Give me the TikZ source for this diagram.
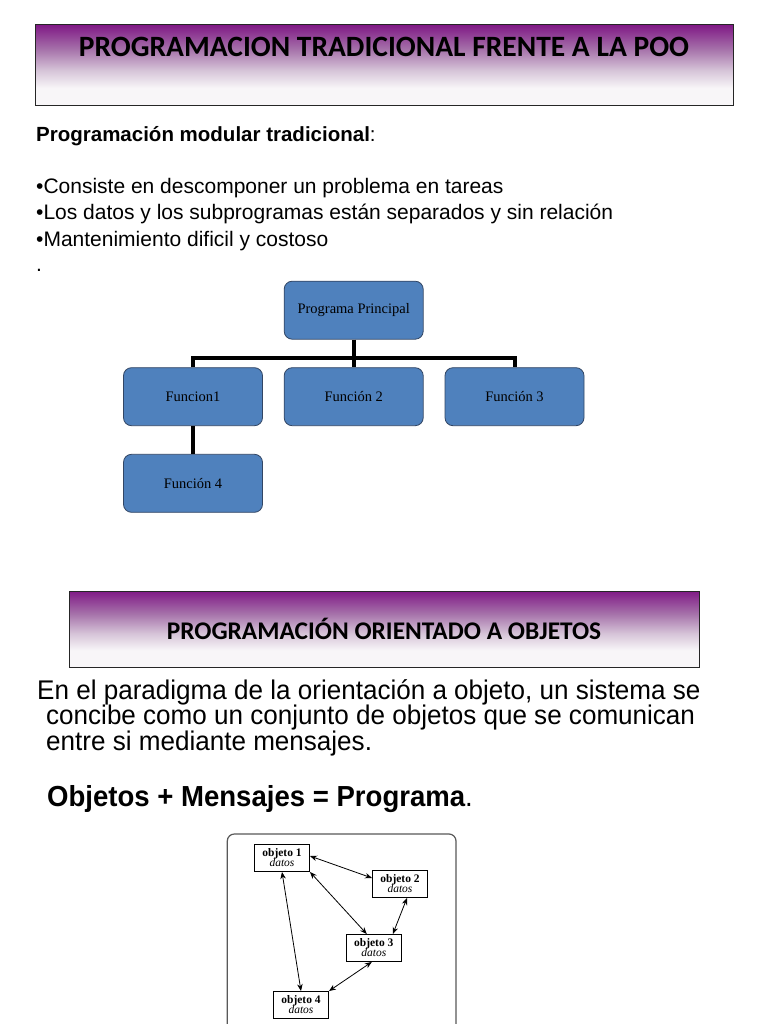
\documentclass[tikz,border=0pt]{standalone}
\usepackage{fontspec}
\setmainfont{Liberation Sans}
\newfontfamily\carlito{Carlito}
\newfontfamily\tms{Liberation Serif}
\usetikzlibrary{arrows.meta}
\definecolor{hdrtop}{RGB}{128,26,134}
\definecolor{hdrmid}{RGB}{166,114,170}
\definecolor{hdrlight}{RGB}{214,196,216}
\definecolor{hdrbot}{RGB}{248,246,248}
\definecolor{orgfill}{RGB}{79,129,189}
\definecolor{orgline}{RGB}{50,70,100}
\pgfdeclareverticalshading{hdrshade}{100bp}{color(0bp)=(hdrbot); color(25bp)=(hdrbot); color(36bp)=(hdrbot); color(47bp)=(hdrlight); color(60bp)=(hdrmid); color(75bp)=(hdrtop); color(100bp)=(hdrtop)}
\tikzset{
  hdrbox/.style={draw=black!85, line width=1pt, shade, shading=hdrshade, inner sep=0pt},
  hdrtext/.style={font=\carlito\bfseries, anchor=base, inner sep=0pt},
  bodytext/.style={anchor=base west, inner sep=0pt, align=left},
  orgbox/.style={draw=orgline, line width=0.8pt, fill=orgfill, rounded corners=8pt,
    minimum width=139pt, minimum height=58pt, font=\tms\fontsize{14.5}{17}\selectfont},
  orgconn/.style={line width=4pt, line cap=butt},
  objbox/.style={draw=black, line width=0.9pt, fill=white, minimum width=55pt, minimum height=27pt,
    inner sep=0pt, align=center, font=\tms\fontsize{11.5}{11}\selectfont},
  objarrow/.style={line width=0.8pt, {Stealth[length=7pt,width=5.5pt]}-{Stealth[length=7pt,width=5.5pt]}},
}
\begin{document}
\begin{tikzpicture}[x=1pt,y=-1pt]
\useasboundingbox (0,0) rectangle (768,1024);
\fill[white] (0,0) rectangle (768,1024);
% header 1
\node[hdrbox, minimum width=698pt, minimum height=81pt] (h1) at (384,65.5) {};
\node[hdrtext, font=\carlito\bfseries\fontsize{29.5}{30}\selectfont] (t1) at (384,56.5) {PROGRAMACION TRADICIONAL FRENTE A LA POO};
% text block
\node[bodytext, font=\bfseries\fontsize{20.5}{24}\selectfont] (sub) at (36,142) {Programación modular tradicional\textmd{:}};
\node[bodytext, font=\fontsize{21}{26}\selectfont] (b1) at (36,194) {•Consiste en descomponer un problema en tareas};
\node[bodytext, font=\fontsize{21}{26}\selectfont] (b2) at (36,220) {•Los datos y los subprogramas están separados y sin relación};
\node[bodytext, font=\fontsize{21}{26}\selectfont] (b3) at (36,246) {•Mantenimiento dificil y costoso};
\node[bodytext, font=\fontsize{21}{26}\selectfont] (b4) at (36,271) {.};
% org chart
\node[orgbox] (pp) at (353.7,310.2) {Programa Principal};
\node[orgbox] (f1) at (193,396.7) {Funcion1};
\node[orgbox] (f2) at (353.7,396.7) {Función 2};
\node[orgbox] (f3) at (514.5,396.7) {Función 3};
\node[orgbox] (f4) at (193,483.3) {Función 4};
\coordinate (bus) at (353.7,357.5);
\draw[orgconn] (pp.south) -- (f2.north);
\draw[orgconn] (f1.north) |- (bus) -| (f3.north);
\draw[orgconn] (f1.south) -- (f4.north);
% header 2
\node[hdrbox, minimum width=630pt, minimum height=76pt] (h2) at (384,629) {};
\node[hdrtext, font=\carlito\bfseries\fontsize{25.4}{26}\selectfont] (t2) at (384,639) {PROGRAMACIÓN ORIENTADO A OBJETOS};
% paragraph
\node[bodytext, font=\fontsize{27}{26}\selectfont] (p1) at (37,699) {\scalebox{0.965}[1]{En el paradigma de la orientación a objeto, un sistema se}};
\node[bodytext, font=\fontsize{27}{26}\selectfont] (p2) at (46,724) {\scalebox{0.965}[1]{concibe como un conjunto de objetos que se comunican}};
\node[bodytext, font=\fontsize{27}{26}\selectfont] (p3) at (46,750) {\scalebox{0.965}[1]{entre si mediante mensajes.}};
\node[bodytext, font=\fontsize{29}{30}\selectfont] (eq) at (47,806) {\scalebox{0.95}[1]{\textbf{Objetos + Mensajes = Programa}.}};
% object diagram
\draw[draw=black!65, line width=1.2pt, rounded corners=7pt] (227.3,834) rectangle (456,1040);
\node[objbox] (o1) at (282,858) {\textbf{objeto 1}\\[-1pt]\textit{datos}};
\node[objbox] (o2) at (400,884) {\textbf{objeto 2}\\[-1pt]\textit{datos}};
\node[objbox] (o3) at (373.8,948) {\textbf{objeto 3}\\[-1pt]\textit{datos}};
\node[objbox] (o4) at (301,1005) {\textbf{objeto 4}\\[-1pt]\textit{datos}};
\draw[objarrow] ([yshift=2pt]o1.east) -- ([yshift=6pt]o2.west);
\draw[objarrow] (o1.south east) -- ([xshift=-7pt]o3.north);
\draw[objarrow] (o1.south) -- (o4.north);
\draw[objarrow] ([xshift=7pt]o2.south) -- ([xshift=19pt]o3.north);
\draw[objarrow] ([xshift=-2pt]o3.south) -- (o4.north east);
\end{tikzpicture}
\end{document}
